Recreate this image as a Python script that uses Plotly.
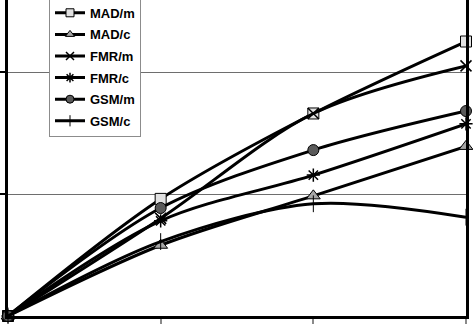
import plotly.graph_objects as go

# Category positions along the horizontal axis (labels are not shown)
steps = [0, 1, 2, 3]

# Series values
mad_m = [0.0, 0.96, 1.66, 2.25]
mad_c = [0.0, 0.58, 0.985, 1.39]
fmr_m = [0.0, 0.80, 1.66, 2.05]
fmr_c = [0.0, 0.78, 1.155, 1.575]
gsm_m = [0.0, 0.885, 1.36, 1.68]
gsm_c = [0.0, 0.61, 0.92, 0.81]

series = [
    ("MAD/m", mad_m, dict(symbol="square", color="#e2e2e2", line=dict(color="black", width=1)), 11),
    ("MAD/c", mad_c, dict(symbol="triangle-up", color="#a6a6a6", line=dict(color="black", width=1)), 12),
    ("FMR/m", fmr_m, dict(symbol="x-thin-open", color="black", line=dict(color="black", width=1.5)), 11),
    ("FMR/c", fmr_c, dict(symbol="asterisk-open", color="black", line=dict(color="black", width=1.5)), 11),
    ("GSM/m", gsm_m, dict(symbol="circle", color="#5a5a5a", line=dict(color="black", width=1)), 11),
    ("GSM/c", gsm_c, dict(symbol="line-ns-open", color="black", line=dict(color="black", width=1)), 12),
]

fig = go.Figure()
for i, (name, vals, mk, size) in enumerate(series):
    # plotted series
    fig.add_trace(go.Scatter(
        x=steps, y=vals, name=name, mode="lines+markers",
        line=dict(color="black", width=3, shape="spline", smoothing=0.9),
        marker=dict(mk, size=size), cliponaxis=False, showlegend=False,
    ))
    # legend entry with a smaller key symbol
    fig.add_trace(go.Scatter(
        x=[None], y=[None], name=name, mode="lines+markers",
        line=dict(color="black", width=3),
        marker=dict(mk, size=8), legendgroup=f"g{i}", showlegend=True,
    ))

fig.update_layout(
    width=473, height=324,
    margin=dict(l=8, r=7, t=0, b=8, pad=0, autoexpand=False),
    paper_bgcolor="white", plot_bgcolor="white",
    showlegend=True,
    legend=dict(
        x=(49 - 8) / 458, y=1.01, xanchor="left", yanchor="top",
        bgcolor="white", bordercolor="#8c8c8c", borderwidth=1,
        font=dict(family="Liberation Sans, Arial, sans-serif", size=13, color="black", weight="bold"),
        tracegroupgap=1.7, traceorder="grouped",
    ),
    xaxis=dict(
        range=[0, 3], showgrid=False, zeroline=False, showticklabels=False,
        showline=True, linecolor="black", linewidth=3,
        ticks="outside", tickvals=[1, 2, 3], ticklen=6, tickwidth=2, tickcolor="#8a8a8a",
    ),
    yaxis=dict(
        range=[0, 316 / 122], showgrid=True, gridcolor="#6e6e6e", gridwidth=1,
        zeroline=False, showticklabels=False,
        showline=True, linecolor="black", linewidth=3, mirror=True,
        ticks="outside", tickvals=[1, 2], ticklen=6, tickwidth=2, tickcolor="black",
    ),
)

fig.write_html("out.html")
